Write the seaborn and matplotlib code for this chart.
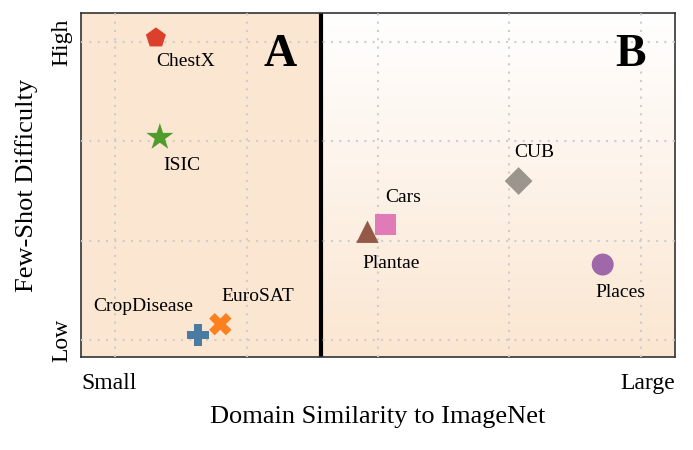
import matplotlib.pyplot as plt
from matplotlib.colors import LinearSegmentedColormap
import seaborn as sns
import numpy as np
import pandas as pd

# datasets placed on a similarity / difficulty plane (arbitrary units)
names = ['ChestX', 'ISIC', 'CropDisease', 'EuroSAT', 'Plantae', 'Cars', 'CUB', 'Places']
similarity = [1.31, 1.34, 1.63, 1.80, 2.92, 3.06, 4.07, 4.71]
difficulty = [4.04, 3.04, 1.05, 1.16, 2.09, 2.16, 2.60, 1.76]
colors = ['#dc402c', '#4f9b2c', '#4a7ba2', '#fb8120', '#945a47', '#e07bb8', '#9b958d', '#9e68a9']
markers = ['p', '*', 'P', 'X', '^', 's', 'D', 'o']
sizes = [230, 420, 260, 260, 260, 230, 200, 250]
# label offsets in pixels from the marker
label_dx = [30, 22, -55, 37, 24, 17, 16, 18]
label_dy = [-24, -28, 29, 28, -32, 27, 29, -28]

split = 2.57
xlim = (0.74, 5.26)
ylim = (0.83, 4.29)
peach = '#fbe6d1'

df = pd.DataFrame({'name': names, 'sim': similarity, 'diff': difficulty})

sns.set_style('white')
plt.rcParams['font.family'] = ['Liberation Serif', 'DejaVu Serif']
plt.rcParams['text.color'] = 'black'
plt.rcParams['axes.labelcolor'] = 'black'
plt.rcParams['xtick.color'] = 'black'
plt.rcParams['ytick.color'] = 'black'

fig = plt.figure(figsize=(6.93, 4.5), dpi=100)
ax = fig.add_axes([0.1169, 0.2067, 0.974 - 0.1169, 0.971 - 0.2067])

# background: flat peach for region A, vertical white->peach gradient for B
ax.axvspan(xlim[0], split, color=peach, zorder=0, lw=0)
grad = np.linspace(0, 1, 256).reshape(-1, 1)
cmap = LinearSegmentedColormap.from_list('bg', ['#ffffff', peach])
ax.imshow(grad, cmap=cmap, aspect='auto', origin='upper',
          extent=(split, xlim[1], ylim[0], ylim[1]), zorder=0)

sns.scatterplot(data=df, x='sim', y='diff', hue='name', style='name', size='name',
                palette=dict(zip(names, colors)), markers=dict(zip(names, markers)),
                sizes=dict(zip(names, sizes)), linewidth=0, legend=False, ax=ax, zorder=3)

for n, x, y, dx, dy in zip(names, similarity, difficulty, label_dx, label_dy):
    ax.annotate(n, (x, y), xytext=(dx, dy), textcoords='offset pixels',
                ha='center', va='center', fontsize=14, zorder=4)

ax.axvline(split, color='black', lw=3, zorder=2)

ax.text(0.364, 0.878, 'A', transform=ax.transAxes, ha='right', va='center',
        fontsize=33, fontweight='bold')
ax.text(0.951, 0.878, 'B', transform=ax.transAxes, ha='right', va='center',
        fontsize=33, fontweight='bold')

ax.set_xlim(xlim)
ax.set_ylim(ylim)
ax.set_xticks([1, 2, 3, 4, 5], labels=[''] * 5)
ax.set_yticks([1, 2, 3, 4], labels=['Low', '', '', 'High'])
for lab in ax.get_yticklabels():
    lab.set_rotation(90)
    lab.set_va('center')
ax.tick_params(axis='both', length=0, labelsize=17)
ax.tick_params(axis='y', pad=6)
ax.text(0.0, -0.048, 'Small', transform=ax.transAxes, ha='left', va='top', fontsize=17)
ax.text(1.0, -0.048, 'Large', transform=ax.transAxes, ha='right', va='top', fontsize=17)

ax.grid(True, linestyle=(0, (1, 3)), color='#cdcdcd', lw=1.5, zorder=1)
ax.set_axisbelow(False)
for s in ax.spines.values():
    s.set_color('#333333')
    s.set_linewidth(1.2)

ax.set_xlabel('Domain Similarity to ImageNet', fontsize=19, labelpad=32)
ax.set_ylabel('Few-Shot Difficulty', fontsize=19, labelpad=10)

fig.savefig('out.png', dpi=100)
